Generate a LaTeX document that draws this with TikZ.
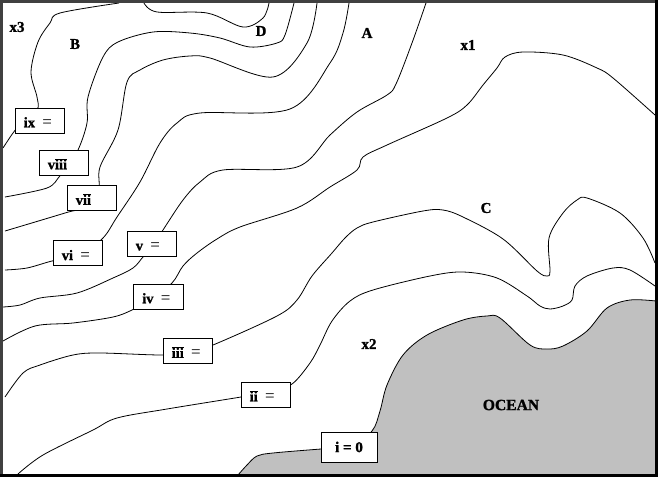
\documentclass[tikz,border=0pt]{standalone}
\usepackage{fontspec}
\setmainfont[BoldFeatures={FakeBold=1.2}]{Liberation Serif}
\definecolor{oceangray}{HTML}{C0C0C0}
\newsavebox{\barbox}
\newcommand{\barred}[1]{\sbox{\barbox}{#1}\rlap{\rule[9.4pt]{\wd\barbox}{1.3pt}}\usebox{\barbox}}
\newcommand{\eqs}{\,\,\,{\fontsize{17}{17}\selectfont\textnormal{=}}}
\tikzset{
  contour/.style={draw=black,line width=0.8pt,smooth,tension=0.55},
  lab/.style={font=\fontsize{15}{16}\selectfont\bfseries,inner sep=0pt},
  sealab/.style={font=\fontsize{15.6}{16}\selectfont\bfseries,inner sep=0pt},
  valbox/.style={draw=black,line width=0.9pt,fill=white,minimum width=49.5pt,minimum height=25pt,
    inner xsep=8.5pt,inner ysep=0pt,text width=32.5pt,align=left,text height=13.5pt,text depth=0pt,
    font=\fontsize{14.5}{16}\selectfont\bfseries},
  zerobox/.style={draw=black,line width=0.9pt,fill=white,minimum width=56pt,minimum height=30pt,inner sep=0pt,
    font=\fontsize{15}{16}\selectfont\bfseries}
}
\begin{document}
\begin{tikzpicture}[x=1pt,y=-1pt]
\useasboundingbox (0,0) rectangle (658,477);
\fill[white] (0,0) rectangle (658,477);
% ocean
\fill[oceangray] plot[smooth,tension=0.55] coordinates {(656,301) (630,300) (607,308) (587,331) (563,346) (547,349) (530,345) (500,318) (487,316) (463,320) (427,335) (403,355) (387,385) (380,411) (372,431) (350,447) (321,449) (273,453) (257,456) (247,465) (238,475)} -- (656,475) -- cycle;
\draw[contour] plot coordinates {(656,301) (630,300) (607,308) (587,331) (563,346) (547,349) (530,345) (500,318) (487,316) (463,320) (427,335) (403,355) (387,385) (380,411) (372,431) (350,447) (321,449) (273,453) (257,456) (247,465) (238,475)};
% contours
\draw[contour] plot coordinates {(119,3) (60,13) (50,23) (38,42) (31,72) (37,97) (37,110) (20,125) (13,133) (3,148)};
\draw[contour] plot coordinates {(144,3) (157,12) (207,13) (243,27) (263,18) (269,3)};
\draw[contour] plot coordinates {(294,3) (285,35) (277,43) (250,47) (220,38) (190,33) (153,32) (118,42) (103,57) (88,97) (87,123) (78,150) (65,170) (59,177) (47,188) (5,197)};
\draw[contour] plot coordinates {(317,3) (307,43) (273,77) (210,58) (190,56) (163,60) (140,70) (127,82) (118,130) (100,167) (98,190) (80,208) (65,213) (5,231)};
\draw[contour] plot coordinates {(349,3) (343,33) (330,63) (290,109) (200,113) (177,123) (160,143) (140,182) (117,217) (103,238) (80,255) (52,261) (27,268) (5,270)};
\draw[contour] plot coordinates {(426,3) (412,43) (396,84) (387,95) (357,112) (330,135) (297,167) (223,170) (200,182) (183,200) (163,230) (150,250) (143,257) (133,268) (113,278) (77,293) (40,298) (20,305) (3,307)};
\draw[contour] plot coordinates {(655,115) (613,78) (597,68) (563,55) (523,52) (505,57) (497,68) (483,85) (467,105) (447,118) (387,145) (363,157) (357,170) (330,187) (297,208) (240,227) (217,239) (197,253) (183,266) (172,283) (150,300) (132,310) (113,317) (73,323) (35,326) (3,341)};
\draw[contour] plot coordinates {(655,263) (643,238) (620,213) (587,198) (577,200) (563,213) (549,238) (550,271) (547,276) (537,271) (503,239) (463,217) (443,210) (423,211) (373,222) (357,228) (345,238) (332,253) (312,276) (297,300) (277,316) (213,345) (190,352) (163,355) (100,353) (73,355) (40,365) (23,373) (5,397)};
\draw[contour] plot coordinates {(655,286) (630,270) (613,268) (587,276) (575,286) (572,300) (563,306) (550,309) (540,306) (527,296) (497,278) (463,272) (430,276) (373,290) (350,301) (332,321) (320,345) (310,363) (292,384) (270,392) (241,397) (167,409) (117,418) (93,430) (43,455) (18,474)};
% boxes
\node[valbox] (ix) at (40,120.5) {ix\eqs};
\node[valbox] (viii) at (64,162.5) {v\barred{iii}};
\node[valbox] (vii) at (92,198) {v\barred{ii}};
\node[valbox] (vi) at (78,253.3) {vi\eqs};
\node[valbox] (v) at (152,243.7) {v\eqs};
\node[valbox] (iv) at (158.5,296.5) {iv\eqs};
\node[valbox] (iii) at (188,351) {\barred{iii}\eqs};
\node[valbox] (ii) at (266,394.5) {\barred{ii}\eqs};
\node[zerobox] (i) at (349,447) {i = 0};
% labels
\node[lab] (x3) at (17,27) {x3};
\node[lab] (B) at (75,44) {B};
\node[lab] (D) at (261,31) {D};
\node[lab] (A) at (367,33) {A};
\node[lab] (x1) at (468,45) {x1};
\node[lab] (C) at (486,208) {C};
\node[lab] (x2) at (369,344) {x2};
\node[sealab] (ocean) at (511,405) {OCEAN};
% frame
\draw[black!75,line width=3pt] (1.5,477) -- (1.5,1.5) -- (658,1.5);
\draw[black,line width=3pt] (656.5,0) -- (656.5,475.5) -- (0,475.5);
\end{tikzpicture}
\end{document}
